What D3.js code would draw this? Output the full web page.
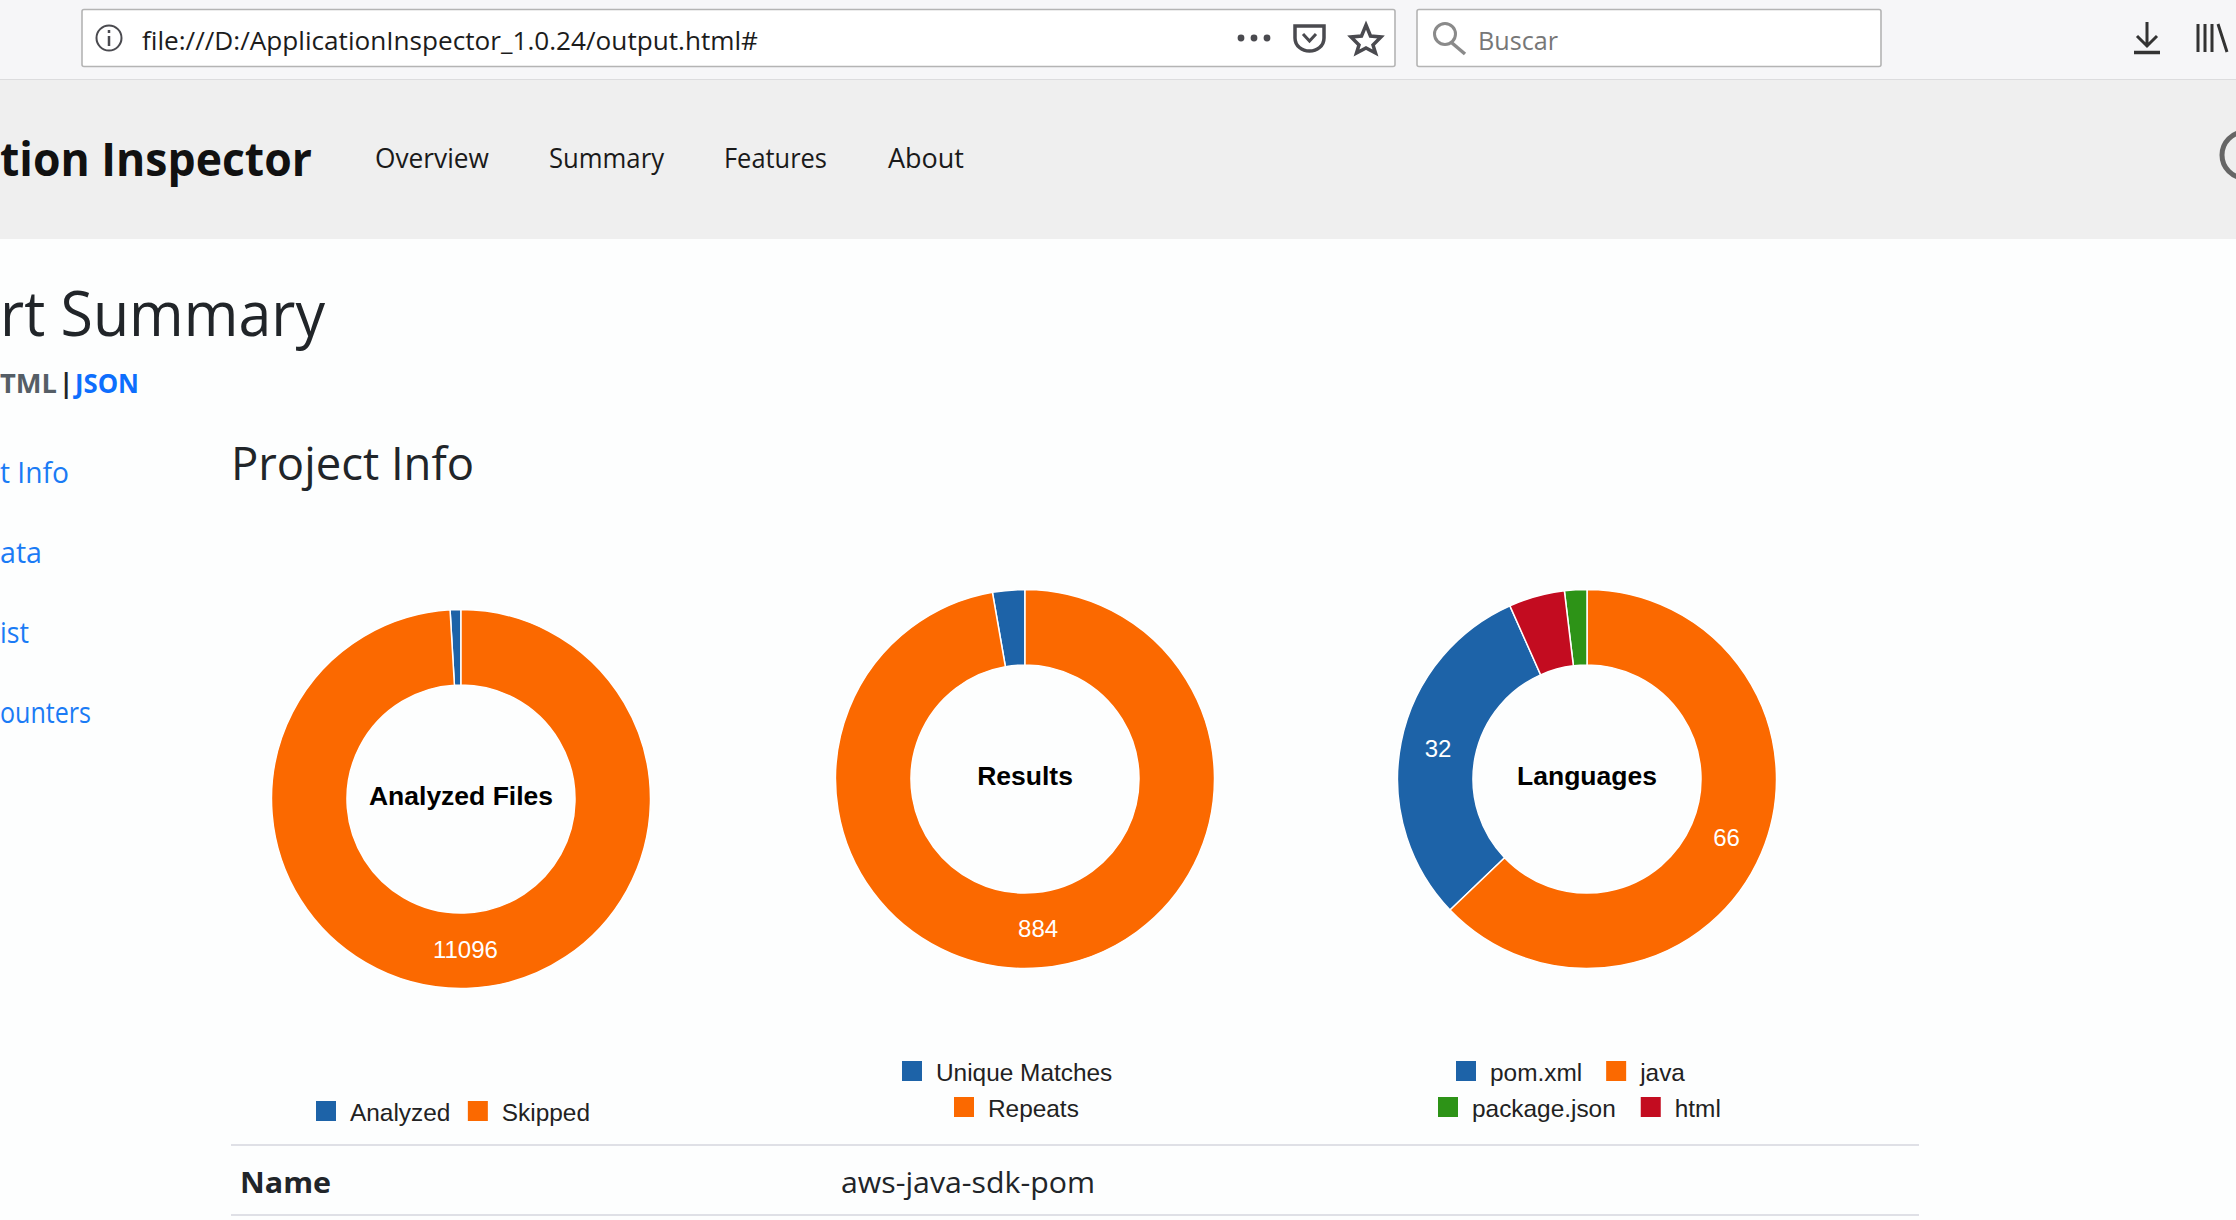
<!DOCTYPE html>
<html lang="en">
<head>
<meta charset="UTF-8">
<title>Application Inspector</title>
<style>
    body { margin: 0; padding: 0; overflow: hidden; background: #fdfefe; }
    svg { display: block; }
    .ui { font-family: "Open Sans", sans-serif; }
    .chart-text { font-family: "Liberation Sans", Arial, sans-serif; }
</style>
</head>
<body>
<svg id="page" width="2236" height="1220"></svg>
<script src="https://d3js.org/d3.v7.min.js"></script>
<script>
// chart values
const filesLabels = ["Analyzed", "Skipped"];
const filesValues = [103, 11096];
const resultsLabels = ["Unique Matches", "Repeats"];
const resultsValues = [25, 884];
const languageLabels = ["pom.xml", "java", "package.json", "html"];
const languageValues = [32, 66, 2, 5];
const palette = ["#1d63a8", "#fb6900", "#2d9317", "#c30c20"];

const svg = d3.select("#page");

// plain text helper, the width comes from the reference
function label(str, x, y, size, opts = {}) {
    const t = svg.append("text")
        .attr("class", "ui")
        .attr("x", x)
        .attr("y", y)
        .attr("font-size", size)
        .attr("font-weight", opts.weight || 400)
        .attr("fill", opts.fill || "#212529")
        .text(str);
    if (opts.width) {
        t.attr("textLength", opts.width).attr("lengthAdjust", "spacingAndGlyphs");
    }
    return t;
}

// browser toolbar
svg.append("rect").attr("width", 2236).attr("height", 79).attr("fill", "#f6f6f8");
svg.append("rect").attr("y", 79).attr("width", 2236).attr("height", 1).attr("fill", "#dcdcde");
svg.append("rect").attr("y", 80).attr("width", 2236).attr("height", 159).attr("fill", "#efefef");

[[82, 1313], [1417, 464]].forEach(([x, w]) => {
    svg.append("rect").attr("x", x).attr("y", 9.5).attr("width", w).attr("height", 57)
        .attr("rx", 2).attr("fill", "#fff").attr("stroke", "#b4b4b4").attr("stroke-width", 1.6);
});

label("file:///D:/ApplicationInspector_1.0.24/output.html#", 142, 50, 26, {width: 616, fill: "#1c1c1c"});
label("Buscar", 1478, 50, 26, {width: 80, fill: "#777"});

// toolbar icons
const icons = svg.append("g").attr("fill", "none").attr("stroke", "#4a4a4f").attr("stroke-width", 3);
icons.append("circle").attr("cx", 109).attr("cy", 38).attr("r", 12.5).attr("stroke-width", 2);
icons.append("path").attr("d", "M109 36v10M109 30v3").attr("stroke-width", 2.5);
[1241, 1254, 1267].forEach(x => {
    icons.append("circle").attr("cx", x).attr("cy", 38).attr("r", 3.4).attr("fill", "#4a4a4f").attr("stroke", "none");
});
icons.append("path").attr("d", "M1295 26h29v12c0 8-7 13-14.500 13s-14.500-5-14.500-13z").attr("stroke-width", 3.5);
icons.append("path").attr("d", "M1303 34l6.500 7 6.500-7").attr("stroke-width", 3);
icons.append("path").attr("d", "M1366 25l4.500 11 10.500 1-8 8 2.500 8-9.500-5-9.500 5 2.500-8-8-8 10.500-1z").attr("stroke-width", 3.5);
icons.append("circle").attr("cx", 1445).attr("cy", 34).attr("r", 10.5).attr("stroke", "#8a8a8a");
icons.append("path").attr("d", "M1452 43l13 11").attr("stroke", "#8a8a8a").attr("stroke-width", 3.5);
icons.append("path").attr("d", "M2147 22v23M2137 36l10 10 10-10").attr("stroke", "#333");
icons.append("path").attr("d", "M2134 52.500h26").attr("stroke", "#333").attr("stroke-width", 3.5);
icons.append("path").attr("d", "M2198 24v28M2205 24v28M2212 24v28M2218 24l9 28").attr("stroke", "#333");
icons.append("circle").attr("cx", 2245).attr("cy", 155).attr("r", 23).attr("stroke", "#666").attr("stroke-width", 5);

// site navbar
label("tion Inspector", 0, 176, 46, {weight: 700, width: 312, fill: "#111"});
[["Overview", 375, 114], ["Summary", 549, 115], ["Features", 724, 103], ["About", 888, 76]].forEach(([s, x, w]) => {
    label(s, x, 168, 27, {width: w, fill: "#1a1a1a"});
});

// page heading and side menu
label("rt Summary", 0, 336, 62, {width: 325, fill: "#212529"});
label("TML", 0, 393, 26, {weight: 700, width: 57, fill: "#555e66"});
label("|", 59, 393, 26, {weight: 700, fill: "#212529"});
label("JSON", 75, 393, 26, {weight: 700, width: 64, fill: "#0d6efd"});
label("Project Info", 231, 480, 46, {width: 243, fill: "#212529"});
[["t Info", 483, 69], ["ata", 563, 42], ["ist", 643, 29], ["ounters", 723, 91]].forEach(([s, y, w]) => {
    label(s, 0, y, 29, {width: w, fill: "#1a7bf5"});
});

// bottom table row
[1145, 1215].forEach(y => {
    svg.append("line").attr("x1", 231).attr("x2", 1919).attr("y1", y).attr("y2", y)
        .attr("stroke", "#dfe0e6").attr("stroke-width", 2);
});
label("Name", 240, 1193, 29, {weight: 700, width: 91, fill: "#212529"});
label("aws-java-sdk-pom", 841, 1193, 29, {width: 254, fill: "#212529"});

// donuts
const outerRadius = 189.5;
const innerRadius = 114;
const arc = d3.arc().innerRadius(innerRadius).outerRadius(outerRadius);

function drawDonut(opts) {
    const {labels, values, title, cx, cy, titleY, rows} = opts;
    const total = d3.sum(values);
    const color = d3.scaleOrdinal().domain(labels).range(palette);
    const g = svg.append("g").attr("transform", `translate(${cx},${cy})`);
    // default sort puts the biggest slice first, d.data keeps the legend index
    const pie = d3.pie().value(i => values[i]);
    const slices = pie(d3.range(values.length));

    g.selectAll("path")
        .data(slices)
        .enter().append("path")
        .attr("d", arc)
        .attr("fill", d => color(labels[d.data]))
        .attr("stroke", "#fff")
        .attr("stroke-width", 1.5);

    // only slices above a tenth of the ring carry their value
    g.selectAll("text.value")
        .data(slices.filter(d => d.value / total > 0.1))
        .enter().append("text")
        .attr("class", "value chart-text")
        .attr("transform", d => `translate(${arc.centroid(d)})`)
        .attr("text-anchor", "middle")
        .attr("dy", "0.3em")
        .attr("font-size", 24)
        .attr("fill", "#fff")
        .text(d => d.value);

    g.append("text")
        .attr("class", "chart-text")
        .attr("text-anchor", "middle")
        .attr("y", titleY)
        .attr("font-size", 26.5)
        .attr("font-weight", 700)
        .attr("fill", "#000")
        .text(title);

    // legend rows flow from their start x
    rows.forEach(row => {
        let x = row.x;
        row.items.forEach(i => {
            svg.append("rect")
                .attr("x", x).attr("y", row.y - 20)
                .attr("width", 20).attr("height", 20)
                .attr("fill", color(labels[i]));
            const t = svg.append("text")
                .attr("class", "chart-text")
                .attr("x", x + 34)
                .attr("y", row.y)
                .attr("font-size", 24.4)
                .attr("fill", "#222")
                .text(labels[i]);
            x += 34 + t.node().getComputedTextLength() + row.gap;
        });
    });
}

drawDonut({
    labels: filesLabels, values: filesValues, title: "Analyzed Files",
    cx: 461, cy: 799, titleY: 6,
    rows: [{x: 316, y: 1121, gap: 17.5, items: [0, 1]}]
});
drawDonut({
    labels: resultsLabels, values: resultsValues, title: "Results",
    cx: 1025, cy: 779, titleY: 5.5,
    rows: [{x: 902, y: 1081, gap: 23, items: [0]}, {x: 954, y: 1117, gap: 23, items: [1]}]
});
drawDonut({
    labels: languageLabels, values: languageValues, title: "Languages",
    cx: 1587, cy: 779, titleY: 5.5,
    rows: [{x: 1456, y: 1081, gap: 24, items: [0, 1]}, {x: 1438, y: 1117, gap: 25, items: [2, 3]}]
});
</script>
</body>
</html>
